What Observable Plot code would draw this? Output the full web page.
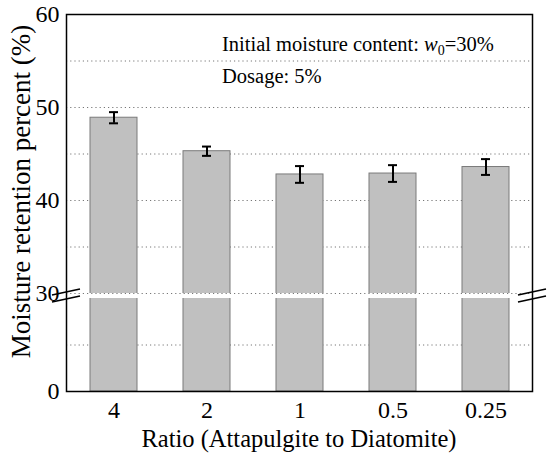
<!DOCTYPE html>
<html><head><meta charset="utf-8">
<script src="https://cdn.jsdelivr.net/npm/d3@7"></script>
<script src="https://cdn.jsdelivr.net/npm/@observablehq/plot@0.6"></script>
<style>
body{margin:0;background:#fff;}
#chart svg{font-family:"Liberation Serif","Times New Roman",serif;}
</style>
</head><body><div id="chart"></div>
<script>
// ---- data ----
const ratios = ["4", "2", "1", "0.5", "0.25"];
const retention = [48.9, 45.3, 42.8, 42.9, 43.6];
const errors = [0.6, 0.5, 0.9, 0.9, 0.85];
const yTickLabels = [0, 30, 40, 50, 60];
const upperGrid = [35, 40, 45, 50, 55];
const lowerGrid = [15];
const breakAt = 30;
const xTitle = "Ratio (Attapulgite to Diatomite)";
const yTitle = "Moisture retention percent (%)";
const noteMoisture = ["Initial moisture content: ", "w", "0", "=30%"];
const noteDosage = "Dosage: 5%";

// ---- layout ----
const W = 550, H = 456;
const mTop = 14, mRight = 18, mBottom = 65, mLeft = 66;
const plotBottom = H - mBottom;
const lowerSpan = 93, gapSpan = 5;
const eps = 1e-6;                 // upper side of the axis break
const hi = breakAt + eps;
const serif = "Liberation Serif, Times New Roman, serif";

const data = ratios.map((r, i) => ({ratio: r, value: retention[i], err: errors[i]}));

const yRange = [plotBottom, plotBottom - lowerSpan, plotBottom - lowerSpan - gapSpan, mTop];

const chart = Plot.plot({
  width: W, height: H,
  marginTop: mTop, marginRight: mRight, marginBottom: mBottom, marginLeft: mLeft,
  style: {fontFamily: serif, background: "#fff", color: "#000"},
  x: {type: "band", domain: ratios, paddingInner: 0.5, paddingOuter: 0.25},
  y: {type: "linear", domain: [0, breakAt, hi, 60], range: yRange},
  marks: [
    Plot.ruleY(upperGrid.concat(lowerGrid), {stroke: "#777", strokeWidth: 1, strokeDasharray: "1.2,3"}),
    Plot.barY(data, {x: "ratio", y: "value", fill: "#c0c0c0", stroke: "#7a7a7a", strokeWidth: 1}),
    Plot.rect([0], {y1: breakAt, y2: hi, fill: "#fff"}),
    Plot.ruleY([hi], {stroke: "#777", strokeWidth: 1, strokeDasharray: "1.2,3"}),
    Plot.ruleX(data, {x: "ratio", y1: d => d.value - d.err, y2: d => d.value + d.err, stroke: "#000", strokeWidth: 2}),
    Plot.tickY(data, {x: "ratio", y: d => d.value + d.err, insetLeft: 19, insetRight: 19, stroke: "#000", strokeWidth: 2}),
    Plot.tickY(data, {x: "ratio", y: d => d.value - d.err, insetLeft: 19, insetRight: 19, stroke: "#000", strokeWidth: 2}),
    Plot.frame({stroke: "#000", strokeWidth: 1.5}),
    Plot.axisY(yTickLabels.map(v => v === breakAt ? hi : v), {
      tickSize: 0, tickPadding: 7, fontSize: 24, fontFamily: serif,
      tickFormat: d => String(Math.round(d)), label: null
    }),
    Plot.axisX({
      tickSize: 0, tickPadding: 9, fontSize: 24, fontFamily: serif, label: null
    })
  ]
});

document.getElementById("chart").appendChild(chart);

// ---- titles, axis break marks and annotations ----
const svg = d3.select(chart);
svg.selectAll('g[aria-label$="tick label"] text, g[aria-label$="tick label"]')
  .style("font-size", "24px").style("font-family", serif);

const ys = chart.scale("y");
const yLo = ys.apply(breakAt), yHi = ys.apply(hi);
const xLeft = mLeft, xRight = W - mRight;

svg.append("text")
  .attr("transform", `translate(21,${(mTop + plotBottom) / 2 - 11}) rotate(-90)`)
  .attr("text-anchor", "middle").attr("dominant-baseline", "central")
  .attr("font-size", 27).attr("font-family", serif).attr("fill", "#000").text(yTitle);

svg.append("text")
  .attr("x", (xLeft + xRight) / 2).attr("y", H - 9)
  .attr("text-anchor", "middle").attr("font-size", 24.5).attr("font-family", serif)
  .attr("fill", "#000").text(xTitle);

const g = svg.append("g").attr("stroke", "#000").attr("stroke-width", 1.5);
[xLeft, xRight].forEach(x0 => {
  [yHi - 1, yLo + 1].forEach(yc => {
    g.append("line").attr("x1", x0 - 14).attr("y1", yc + 3).attr("x2", x0 + 14).attr("y2", yc - 3);
  });
});

const t1 = svg.append("text").attr("x", 222).attr("y", ys.apply(56)).attr("text-anchor", "start")
  .attr("font-size", 20.5).attr("font-family", serif).attr("fill", "#000");
t1.append("tspan").text(noteMoisture[0]);
t1.append("tspan").attr("font-style", "italic").text(noteMoisture[1]);
t1.append("tspan").attr("font-size", 14).attr("dy", 4).text(noteMoisture[2]);
t1.append("tspan").attr("dy", -4).text(noteMoisture[3]);
svg.append("text").attr("x", 222).attr("y", ys.apply(52.6)).attr("text-anchor", "start")
  .attr("font-size", 20.5).attr("font-family", serif).attr("fill", "#000").text(noteDosage);
</script>
</body></html>
